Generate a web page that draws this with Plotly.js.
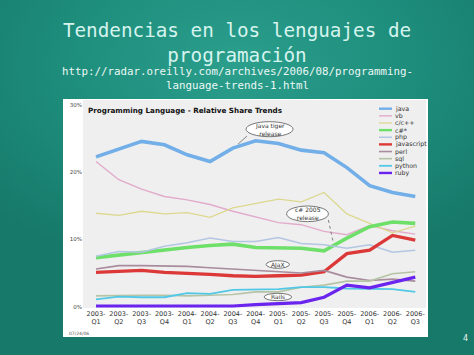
<!DOCTYPE html>
<html>
<head>
<meta charset="utf-8">
<script src="https://cdn.plot.ly/plotly-3.0.1.min.js"></script>
<style>
html,body{margin:0;padding:0;width:474px;height:355px;overflow:hidden;}
body{background:radial-gradient(ellipse 70% 60% at 50% 18%, #2b9e8c 0%, #1d8c7b 55%, #17796a 100%);}
#chart{width:474px;height:355px;}
</style>
</head>
<body>
<div id="chart"></div>
<script>
// ---- data ----
var quarters = ["2003-Q1","2003-Q2","2003-Q3","2003-Q4","2004-Q1","2004-Q2","2004-Q3","2004-Q4",
                "2005-Q1","2005-Q2","2005-Q3","2005-Q4","2006-Q1","2006-Q2","2006-Q3"];
var seriesNames = ["java","vb","c/c++","c#*","php","javascript","perl","sql","python","ruby"];
var java       = [22.3,23.4,24.6,24.1,22.6,21.6,23.6,24.7,24.3,23.3,22.9,20.7,18.0,17.0,16.4];
var vb         = [21.6,18.9,17.5,16.4,15.9,15.2,14.2,13.3,12.5,12.2,11.2,10.7,12.1,11.3,10.8];
var cpp        = [13.9,13.6,14.2,13.8,14.0,13.3,14.7,15.3,16.0,15.6,17.0,13.8,12.4,11.0,12.0];
var csharp     = [7.3,7.7,8.0,8.4,8.8,9.1,9.3,8.8,8.7,8.7,8.3,10.2,11.9,12.6,12.4];
var php        = [7.5,8.2,8.1,9.0,9.5,10.2,9.7,9.7,10.3,9.4,9.2,8.7,9.2,8.1,8.4];
var javascript = [5.1,5.3,5.4,5.1,5.0,4.8,4.6,4.5,4.6,4.7,5.2,7.9,8.4,10.6,9.9];
var perl       = [5.6,6.1,6.1,6.1,6.0,5.8,5.6,5.3,5.2,5.0,5.4,4.4,3.9,4.1,3.8];
var sql        = [1.6,1.7,1.7,1.7,1.6,1.7,1.8,2.2,2.2,2.9,3.2,3.8,3.8,4.9,5.2];
var python     = [1.1,1.5,1.4,1.4,2.0,1.9,2.5,2.6,2.6,2.9,2.9,2.7,2.6,2.6,2.2];
var ruby       = [0.1,0.1,0.1,0.1,0.1,0.1,0.1,0.3,0.5,0.6,1.4,3.2,2.8,3.6,4.4];
var yTicks = [0,10,20,30];
var notes = ["Java tiger<br>release","c# 2005<br>release","AJaX","Rails"];

// ---- styles ----
var values = [java,vb,cpp,csharp,php,javascript,perl,sql,python,ruby];
var colors = ["#72aee8","#e2aacb","#dcd88e","#6ee06a","#b3c6e2","#dc3838","#a88b9c","#b6c4a6","#52c8e6","#6a24ee"];
var widths = [3.6,1.4,1.3,3.6,1.5,3.4,1.6,1.6,1.8,3.2];

var traces = seriesNames.map(function(n,i){
  return {x:quarters, y:values[i], name:n, type:'scatter', mode:'lines',
          line:{color:colors[i], width:widths[i]}, showlegend:false, hoverinfo:'skip'};
});

// plot area in page pixels: x 83..426, y 100..308
function px(x){return (x-83)/343;}
function py(y){return (308-y)/208;}

var shapes = [
  {type:'rect', xref:'paper', yref:'paper', x0:px(63), x1:px(428), y0:py(99), y1:py(337),
   fillcolor:'#ffffff', line:{width:0}, layer:'below'},
  {type:'rect', xref:'paper', yref:'paper', x0:0, x1:1, y0:0, y1:1,
   fillcolor:'#efefef', line:{width:0}, layer:'below'}
];
var annotations = [];

// legend (drawn from the series names and colours)
seriesNames.forEach(function(n,i){
  var yy = 108.7 + 7.14*i;
  shapes.push({type:'line', xref:'paper', yref:'paper', x0:px(379), x1:px(392), y0:py(yy), y1:py(yy),
               line:{color:colors[i], width:Math.min(widths[i],2.4)}});
  annotations.push({xref:'paper', yref:'paper', x:px(392.5), y:py(yy), xanchor:'left', yanchor:'middle',
                    text:n, showarrow:false, font:{family:'DejaVu Sans', size:6.3, color:'#333'}});
});

// callout bubbles
var bubbles = [
  {x0:6.58,x1:8.64,y0:25.30,y1:27.53},
  {x0:8.36,x1:10.19,y0:12.65,y1:14.99},
  {x0:7.46,x1:8.48,y0:5.71,y1:6.84},
  {x0:7.37,x1:8.58,y0:0.89,y1:1.99}
];
shapes.push({type:'line', xref:'x', yref:'y', x0:6.23, y0:24.2, x1:6.62, y1:25.4, line:{color:'#666', width:0.8}});
shapes.push({type:'line', xref:'x', yref:'y', x0:10.19, y0:12.9, x1:10.41, y1:9.45, line:{color:'#666', width:0.8, dash:'dot'}});
bubbles.forEach(function(b,i){
  shapes.push({type:'circle', xref:'x', yref:'y', x0:b.x0, x1:b.x1, y0:b.y0, y1:b.y1,
               fillcolor:'#ffffff', line:{color:'#555', width:0.8}});
  annotations.push({xref:'x', yref:'y', x:(b.x0+b.x1)/2, y:(b.y0+b.y1)/2, text:notes[i], showarrow:false,
                    font:{family:'DejaVu Sans', size:6, color:'#333'}});
});

annotations.push({xref:'paper', yref:'paper', x:px(86), y:py(110.5), xanchor:'left', yanchor:'middle',
  text:'<b>Programming Language - Relative Share Trends</b>', showarrow:false,
  font:{family:'DejaVu Sans', size:7.2, color:'#111'}});
annotations.push({xref:'paper', yref:'paper', x:px(237), y:py(79), xanchor:'center', yanchor:'middle',
  text:'http://radar.oreilly.com/archives/2006/08/programming-<br>language-trends-1.html', showarrow:false,
  font:{family:'DejaVu Sans Mono', size:10.8, color:'#eaf8f4'}});
annotations.push({xref:'paper', yref:'paper', x:px(67), y:py(333), xanchor:'left', yanchor:'middle',
  text:'07/24/06', showarrow:false, font:{family:'DejaVu Sans', size:4.5, color:'#555'}});
annotations.push({xref:'paper', yref:'paper', x:px(465), y:py(338), xanchor:'center', yanchor:'middle',
  text:'4', showarrow:false, font:{family:'DejaVu Sans', size:8, color:'#e8f6f2'}});

var layout = {
  width:474, height:355,
  margin:{l:83, r:48, t:100, b:47, pad:0},
  paper_bgcolor:'rgba(0,0,0,0)',
  plot_bgcolor:'rgba(0,0,0,0)',
  title:{text:'Tendencias en los lenguajes de<br>programación', xref:'container', x:0.5, xanchor:'center',
         yref:'container', y:0.897, yanchor:'top',
         font:{family:'DejaVu Sans Mono', size:19.3, color:'#d6f4ee'}},
  xaxis:{type:'category', range:[-0.57,14.47], showgrid:false, zeroline:false, showline:false, ticks:'',
         tickvals:quarters, ticktext:quarters.map(function(q){return q.replace('-','-<br>');}),
         tickangle:0, tickfont:{family:'DejaVu Sans', size:6.5, color:'#333'}, fixedrange:true},
  yaxis:{range:[-0.2,30.76], showgrid:false, zeroline:false, showline:false, ticks:'',
         tickvals:yTicks, ticktext:yTicks.map(function(v){return v+'%';}),
         tickfont:{family:'DejaVu Sans', size:5.5, color:'#444'}, fixedrange:true},
  shapes:shapes,
  annotations:annotations,
  showlegend:false
};
Plotly.newPlot('chart', traces, layout, {displayModeBar:false, staticPlot:true});
</script>
</body>
</html>
